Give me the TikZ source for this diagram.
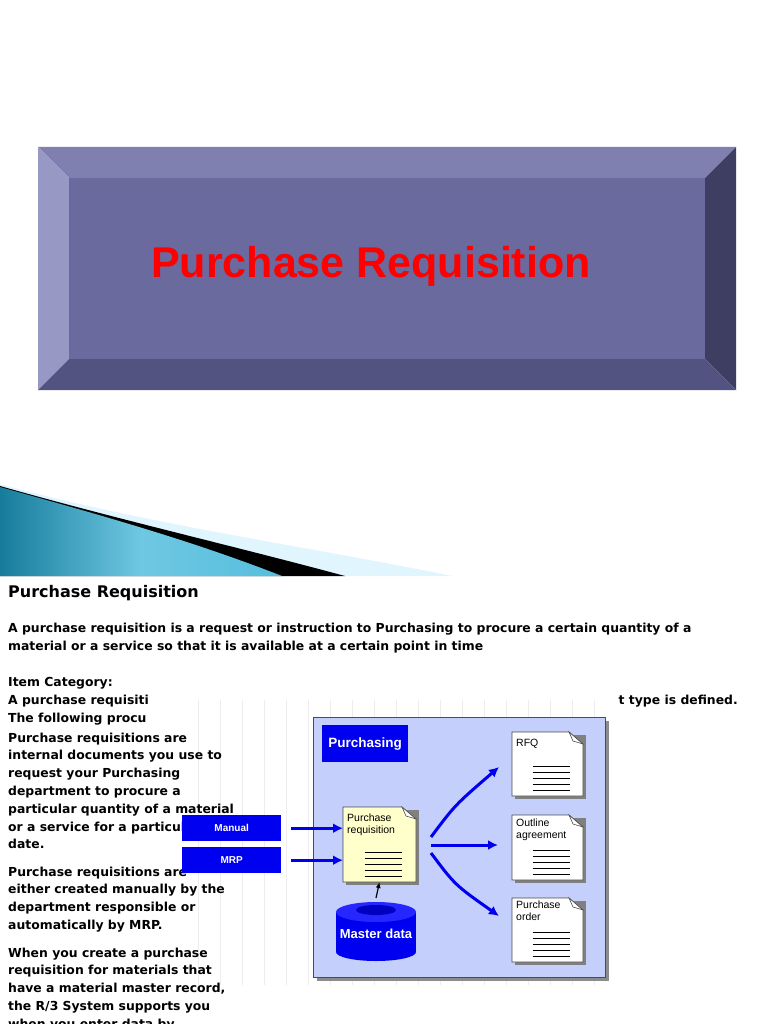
\documentclass[tikz,border=0pt]{standalone}
\usepackage{fontspec}
\setmainfont{DejaVu Sans}
\newfontfamily\arl{Liberation Sans}
\usetikzlibrary{arrows.meta}
\definecolor{bev}{HTML}{6A6A9E}
\definecolor{bevL}{HTML}{9898C4}
\definecolor{bevT}{HTML}{7F7FB0}
\definecolor{bevR}{HTML}{3E3E62}
\definecolor{bevB}{HTML}{535382}
\definecolor{panel}{HTML}{C4CFFB}
\definecolor{pblue}{HTML}{0000F0}
\definecolor{note}{HTML}{FFFFCC}
\definecolor{tealD}{HTML}{177C9C}
\definecolor{tealL}{HTML}{55BEDD}
\begin{document}
\begin{tikzpicture}[x=1pt,y=-1pt,
  body/.style={anchor=base west,inner sep=0pt,font=\bfseries\fontsize{12.4}{14}\selectfont},
  bluebox/.style={fill=pblue,draw=none,text=white,font=\arl\bfseries\fontsize{10}{12}\selectfont},
  arr/.style={draw=pblue,line width=3pt,-{Latex[length=10pt,width=10pt]}},
  lbl/.style={anchor=north west,inner sep=0pt,align=left,font=\arl\fontsize{10.5}{11.5}\selectfont}]
\useasboundingbox (0,0) rectangle (768,1024);
% bevel title box
\fill[bevT] (38,147) -- (736,147) -- (705,178) -- (69,178) -- cycle;
\fill[bevL] (38,147) -- (69,178) -- (69,359) -- (38,390) -- cycle;
\fill[bevR] (736,147) -- (736,390) -- (705,359) -- (705,178) -- cycle;
\fill[bevB] (38,390) -- (69,359) -- (705,359) -- (736,390) -- cycle;
\fill[bev] (69,178) rectangle (705,359);
\node[text=red,font=\arl\bfseries\fontsize{43}{46}\selectfont] (title) at (371,266) {Purchase Requisition};
% swoosh
\fill[cyan!12] (0,484) .. controls (150,525) and (300,545) .. (452,576) -- (0,576) -- cycle;
\fill[black] (0,486) .. controls (120,520) and (230,545) .. (345,576) -- (0,576) -- cycle;
\shade[left color=tealD, right color=tealL,middle color=tealL!85!white] (0,487) .. controls (100,515) and (190,540) .. (282,576) -- (0,576) -- cycle;
% text
\node[body,font=\bfseries\fontsize{16}{18}\selectfont] (h) at (8,597) {Purchase Requisition};
\node[body] (t1) at (8,632) {A purchase requisition is a request or instruction to Purchasing to procure a certain quantity of a};
\node[body] (t2) at (8,650) {material or a service so that it is available at a certain point in time};
\node[body] (t3) at (8,686) {Item Category:};
\node[body] (t4) at (8,704) {A purchase requisiti};
\node[body,anchor=base east] (t4b) at (738,704) {t type is defined.};
\node[body] (t5) at (8,722) {The following procu};
% grid backdrop
\fill[white] (185,694) rectangle (615,985);
\draw[black!7,line width=0.5pt] (185,700) grid[step=22] (615,985);
\foreach \i/\s in {0/{Purchase requisitions are},1/{internal documents you use to},2/{request your Purchasing},3/{department to procure a},4/{particular quantity of a material},5/{or a service for a particular},6/{date.}}
  \node[body] at (8,742+17.8*\i) {\s};
\foreach \i/\s in {0/{Purchase requisitions are},1/{either created manually by the},2/{department responsible or},3/{automatically by MRP.}}
  \node[body] at (8,876+17.8*\i) {\s};
\foreach \i/\s in {0/{When you create a purchase},1/{requisition for materials that},2/{have a material master record,},3/{the R/3 System supports you},4/{when you enter data by}}
  \node[body] at (8,957+17.8*\i) {\s};
% panel
\fill[black!45] (317,721) rectangle (609,981);
\filldraw[fill=panel,draw=black!70,line width=0.8pt] (313,717) rectangle (605,977);
\node[bluebox,anchor=north west,minimum width=86,minimum height=37,font=\arl\bfseries\fontsize{13.5}{15}\selectfont] (purch) at (322,725) {Purchasing};
\node[bluebox,anchor=north west,minimum width=99,minimum height=26] (manual) at (182,815) {Manual};
\node[bluebox,anchor=north west,minimum width=99,minimum height=26] (mrp) at (182,847) {MRP};
% documents
\newcommand\mydoc[6]{% name, x, y, w, h, fill
  \fill[black!50] (#2+3,#3+3) rectangle (#2+#4+3,#3+#5+3);
  \filldraw[fill=#6,draw=black!70,line width=0.6pt] (#2,#3) -- (#2+#4-14,#3) -- (#2+#4,#3+12) -- (#2+#4,#3+#5) -- (#2,#3+#5) -- cycle;
  \filldraw[fill=white,draw=black!70,line width=0.6pt] (#2+#4-14,#3) -- (#2+#4-10,#3+9) -- (#2+#4,#3+12) -- cycle;
  \coordinate (#1) at (#2+#4/2,#3+#5/2);
  \coordinate (#1-w) at (#2,#3+#5/2);
  \coordinate (#1-s) at (#2+#4/2,#3+#5);
  \foreach \k in {0,1,2,3,4} \draw[line width=0.6pt] (#2+#4/2-15,#3+#5-30+6*\k) -- (#2+#4/2+22,#3+#5-30+6*\k);}
\mydoc{req}{343}{807}{73}{75}{note}
\mydoc{rfq}{512}{732}{71}{64}{white}
\mydoc{oa}{512}{815}{71}{65}{white}
\mydoc{po}{512}{898}{71}{64}{white}
\node[lbl] at (347,814) {Purchase\\requisition};
\node[lbl] at (516,739) {RFQ};
\node[lbl] at (516,819) {Outline\\agreement};
\node[lbl] at (516,901) {Purchase\\order};
% master data cylinder
\fill[pblue] (336,912) rectangle (416,952);
\fill[pblue] (376,952) ellipse[x radius=40,y radius=9];
\fill[blue!85!white] (376,912) ellipse[x radius=40,y radius=10];
\fill[pblue!80!black] (376,910) ellipse[x radius=20,y radius=5];
\node[text=white,font=\arl\bfseries\fontsize{13}{14}\selectfont] (md) at (376,934) {Master data};
\coordinate (mdtop) at (376,898);
% arrows
\draw[arr] (manual.east) ++(10,0) -- (req-w |- manual.east);
\draw[arr] (mrp.east) ++(10,0) -- (req-w |- mrp.east);
\draw[-{Latex[length=6pt,width=5pt]},line width=1.2pt] (mdtop) -- (req-s);
\coordinate (a1) at (431,837); \coordinate (a2) at (431,845); \coordinate (a3) at (431,853);
\draw[arr] (a1) .. controls (455,805) .. (499,767);
\draw[arr] (a2) -- (498,845);
\draw[arr] (a3) .. controls (455,885) .. (499,916);
\end{tikzpicture}
\end{document}
